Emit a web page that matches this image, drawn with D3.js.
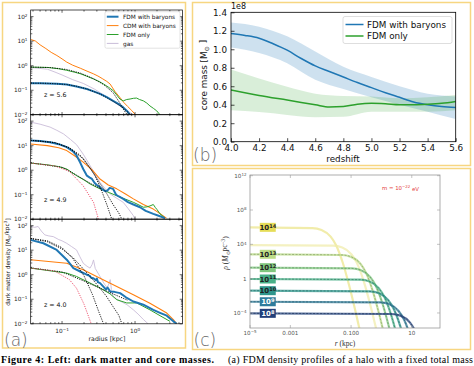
<!DOCTYPE html>
<html>
<head>
<meta charset="utf-8">
<script src="https://cdn.jsdelivr.net/npm/d3@7"></script>
<style>
body { margin: 0; background: #fff; }
svg { font-family: "DejaVu Sans", sans-serif; }
</style>
</head>
<body>
<script>
// ---- panel (a): density profiles, [radius kpc, density Msun/kpc^3] ----
var zLabels = ["z = 5.6", "z = 4.9", "z = 4.0"];
var legendA = ["FDM with baryons", "CDM with baryons", "FDM only", "gas"];

var a56Blue = [[0.037,0.192],[0.05,0.193],[0.063,0.19],[0.085,0.182],[0.116,0.17],[0.158,0.141],[0.219,0.112],[0.27,0.09],[0.332,0.071],[0.41,0.052],[0.5,0.037],[0.6,0.027],[0.69,0.02],[0.78,0.014],[0.855,0.01]];
var a56Orange = [[0.037,11.7],[0.043,10.2],[0.05,7.1],[0.06,5.0],[0.071,3.5],[0.085,2.6],[0.1,1.9],[0.116,1.4],[0.14,1.05],[0.178,0.79],[0.22,0.6],[0.268,0.47],[0.31,0.38],[0.355,0.3],[0.41,0.23],[0.455,0.18],[0.53,0.09],[0.62,0.051],[0.7,0.032],[0.79,0.022],[0.9,0.015],[1.0,0.0105]];
var a56Green = [[0.037,0.875],[0.063,0.85],[0.09,0.75],[0.116,0.65],[0.15,0.54],[0.178,0.47],[0.22,0.37],[0.268,0.29],[0.32,0.23],[0.372,0.178],[0.43,0.135],[0.505,0.095],[0.56,0.065],[0.62,0.044],[0.69,0.037],[0.77,0.042],[0.855,0.044],[0.95,0.047],[1.05,0.048],[1.15,0.042],[1.3,0.037],[1.45,0.03],[1.6,0.023],[1.8,0.018],[1.98,0.0145],[2.2,0.01]];
var a56Gas = [[0.037,0.85],[0.063,0.72],[0.08,0.55],[0.1,0.42],[0.14,0.27],[0.195,0.19],[0.28,0.11],[0.4,0.056],[0.56,0.028],[0.76,0.016],[0.93,0.01]];
var a56FitG = [[0.037,0.88],[0.07,0.84],[0.116,0.7],[0.178,0.5],[0.268,0.3],[0.372,0.17],[0.5,0.08],[0.6,0.035],[0.7,0.016],[0.78,0.01]];
var a56FitB = [[0.037,0.195],[0.063,0.192],[0.116,0.172],[0.158,0.145],[0.219,0.113],[0.332,0.07],[0.5,0.036],[0.69,0.019],[0.855,0.0105],[0.9,0.0095]];

var a49Blue = [[0.037,16.2],[0.05,15.5],[0.0686,13.8],[0.09,11.5],[0.116,8.7],[0.14,6.0],[0.158,4.0],[0.178,2.0],[0.195,1.12],[0.21,0.75],[0.219,0.6],[0.24,0.5],[0.257,0.44],[0.28,0.3],[0.3,0.25],[0.331,0.204],[0.36,0.16],[0.39,0.14],[0.417,0.148],[0.45,0.19],[0.5,0.174],[0.55,0.1],[0.6,0.085],[0.69,0.068],[0.8,0.05],[0.95,0.04],[1.17,0.031],[1.4,0.022],[1.78,0.0166],[2.1,0.014],[2.57,0.0112]];
var a49Orange = [[0.037,11.7],[0.063,10],[0.09,8.2],[0.116,6.3],[0.15,3.8],[0.195,2.14],[0.26,1.0],[0.331,0.436],[0.43,0.25],[0.562,0.174],[0.75,0.105],[0.95,0.068],[1.3,0.04],[1.78,0.026],[2.2,0.017],[2.69,0.0112]];
var a49Green = [[0.037,1.95],[0.063,1.66],[0.09,1.4],[0.116,1.12],[0.158,0.6],[0.2,0.4],[0.242,0.275],[0.331,0.174],[0.45,0.12],[0.562,0.091],[0.75,0.065],[0.95,0.049],[1.1,0.04],[1.3,0.031],[1.45,0.032],[1.6,0.035],[1.78,0.04],[1.9,0.03],[2.0,0.025],[2.2,0.0166],[2.57,0.0112]];
var a49Gas = [[0.037,91],[0.05,75],[0.0686,57],[0.085,42],[0.105,30],[0.13,18],[0.158,11],[0.195,4.5],[0.242,1.55],[0.29,0.6],[0.331,0.32],[0.4,0.16],[0.457,0.107],[0.55,0.075],[0.69,0.049],[0.8,0.028],[0.95,0.014],[1.0,0.01]];
var a49FitG = [[0.037,2.0],[0.1,1.32],[0.158,0.63],[0.25,0.28],[0.35,0.17]];
var a49FitA = [[0.037,16.6],[0.079,13.2],[0.126,7.9],[0.2,2.8],[0.282,0.63],[0.355,0.126],[0.417,0.035],[0.48,0.01]];
var a49FitB = [[0.037,16.6],[0.079,13.5],[0.126,8.3],[0.178,4.0],[0.24,1.26],[0.316,0.35],[0.4,0.126],[0.5,0.04],[0.6,0.018],[0.66,0.01]];
var a49Red = [[0.037,1.95],[0.079,1.5],[0.126,0.9],[0.195,0.23],[0.27,0.049],[0.316,0.01]];

var a40Blue = [[0.037,26.3],[0.0555,19.1],[0.0845,10.2],[0.116,4.07],[0.143,1.86],[0.177,1.35],[0.218,1.0],[0.24,0.9],[0.25,0.75],[0.269,0.72],[0.29,0.6],[0.3,0.7],[0.31,0.5],[0.332,0.457],[0.36,0.35],[0.4,0.25],[0.42,0.3],[0.455,0.209],[0.52,0.2],[0.624,0.178],[0.75,0.12],[0.948,0.081],[1.1,0.07],[1.3,0.06],[1.78,0.037],[2.2,0.028],[2.72,0.0214],[3.35,0.0126],[3.72,0.01]];
var a40Orange = [[0.037,4.07],[0.116,2.95],[0.195,1.58],[0.332,0.72],[0.562,0.33],[0.948,0.151],[1.6,0.069],[2.72,0.0275],[3.35,0.0148],[3.72,0.01]];
var a40Green = [[0.037,1.86],[0.116,1.16],[0.158,0.85],[0.242,0.457],[0.332,0.288],[0.455,0.166],[0.562,0.0955],[0.769,0.0708],[1.055,0.0708],[1.6,0.037],[2.2,0.0214],[3.01,0.0126]];
var a40Gas = [[0.037,95],[0.042,85],[0.047,92],[0.052,60],[0.058,42],[0.066,38],[0.076,35.5],[0.09,27],[0.1,24],[0.116,19],[0.135,14],[0.158,10.2],[0.175,5.5],[0.195,2.95],[0.22,2.2],[0.242,1.86],[0.258,2.6],[0.27,4.0],[0.285,1.8],[0.331,0.85],[0.38,0.42],[0.417,0.29],[0.44,0.45],[0.457,0.63],[0.475,0.25],[0.5,0.13],[0.6,0.09],[0.776,0.06],[0.95,0.037],[1.1,0.025],[1.3,0.015],[1.51,0.01]];
var a40FitG = [[0.037,1.9],[0.1,1.3],[0.2,0.55],[0.4,0.22],[0.8,0.09]];
var a40FitA = [[0.037,30],[0.063,24],[0.1,12.6],[0.141,4.5],[0.2,0.9],[0.26,0.16],[0.32,0.03],[0.37,0.01]];
var a40FitB = [[0.037,30],[0.063,22],[0.1,11.2],[0.141,5.0],[0.2,1.6],[0.282,0.5],[0.4,0.14],[0.5,0.05],[0.6,0.022],[0.66,0.01]];
var a40Red = [[0.037,1.86],[0.079,1.41],[0.126,0.63],[0.158,0.28],[0.2,0.063],[0.251,0.01]];

// ---- panel (b): core mass vs redshift (units of 1e8 Msun) ----
var bLineZ = [4.0,4.1,4.2,4.3,4.4,4.5,4.6,4.7,4.8,4.9,5.0,5.1,5.2,5.3,5.4,5.5,5.6];
var bFdmBaryons = [1.17,1.15,1.12,1.06,0.99,0.90,0.82,0.76,0.70,0.64,0.585,0.53,0.48,0.43,0.40,0.38,0.37];
var bOnlyZ = [4.0,4.2,4.4,4.6,4.7,4.8,4.9,5.0,5.1,5.2,5.3,5.4,5.5,5.6];
var bFdmOnly = [0.56,0.50,0.45,0.40,0.375,0.38,0.405,0.415,0.41,0.40,0.40,0.405,0.415,0.435];
var bBandZ = [4.0,4.2,4.4,4.6,4.8,5.0,5.2,5.4,5.6];
var bBaryonsHi = [1.29,1.245,1.14,0.975,0.81,0.70,0.60,0.52,0.49];
var bBaryonsLo = [1.02,0.96,0.85,0.67,0.57,0.48,0.40,0.325,0.245];
var bOnlyHi = [0.78,0.685,0.595,0.52,0.495,0.49,0.47,0.48,0.505];
var bOnlyLo = [0.34,0.32,0.29,0.265,0.27,0.325,0.325,0.325,0.34];
var bLegend = ["FDM with baryons", "FDM only"];

// ---- panel (c): soliton profiles, [r kpc, rho Msun/pc^3] ----
var cHaloExp = ["14", null, "13", "12", "11", "10", "9", "8"];
var c14 = [[4.7e-5,9.55e5],[5.33e-3,7.9e5],[1.06e-2,4.8e5],[2.12e-2,7.9e4],[3.21e-2,7.9e3],[5.33e-2,72],[8.45e-2,0.22],[0.134,3.0e-4],[0.212,2.4e-7]];
var cExtra = [[4.7e-5,8.3e3],[2.56e-2,6.9e3],[5.12e-2,4.2e3],[0.102,692],[0.155,69],[0.256,0.63],[0.406,1.95e-3],[0.644,2.6e-6],[1.02,2.1e-9]];
var c13 = [[4.7e-5,692],[5.02e-2,575],[0.1,347],[0.2,57.5],[0.303,5.75],[0.502,5.2e-2],[0.796,1.6e-4],[1.26,2.2e-7]];
var c12 = [[4.7e-5,19.1],[0.107,15.8],[0.213,9.5],[0.425,1.58],[0.643,0.158],[1.07,1.45e-3],[1.69,4.5e-6],[2.68,6e-9]];
var c11 = [[4.7e-5,0.912],[0.206,0.76],[0.41,0.457],[0.818,7.6e-2],[1.24,7.6e-3],[2.06,6.9e-5],[3.26,2.1e-7]];
var c10 = [[4.7e-5,3.98e-2],[0.417,3.3e-2],[0.832,2.0e-2],[1.66,3.3e-3],[2.51,3.3e-4],[4.17,3.0e-6],[6.61,9.3e-9]];
var c9 = [[4.7e-5,2.04e-3],[0.923,1.7e-3],[1.84,1.02e-3],[3.67,1.7e-4],[5.56,1.7e-5],[9.23,1.55e-7]];
var c8 = [[4.7e-5,9.1e-5],[2.2,7.6e-5],[4.4,4.6e-5],[8.77,7.6e-6],[13.3,7.6e-7]];
var cYTicks = [1e12, 1e8, 1e4, 1, 1e-4];
var cYLabels = [["10","12"],["10","8"],["10","4"],["1",""],["10","\u22124"]];
var cXTicks = [4.7e-5, 0.001, 0.1, 10];
var cXLabels = [["10","\u22125"],["0.001",""],["0.100",""],["10",""]];

var W = 474, H = 366;
var svg = d3.select("body").append("svg").attr("width", W).attr("height", H);
var defs = svg.append("defs");

var blue = "#1f77b4", orange = "#ff7f0e", green = "#2ca02c", gasCol = "#c9bcd8", red = "#ec4563";
var boxCol = "#f7d681";

function addSup(t, base, sup) {
  t.append("tspan").text(base);
  if (sup) t.append("tspan").attr("dy", "-0.45em").attr("font-size", "72%").text(sup);
}

// panel boxes
svg.append("rect").attr("x", 2.5).attr("y", 2.5).attr("width", 183).attr("height", 345.5)
  .attr("fill", "none").attr("stroke", boxCol).attr("stroke-width", 1.5);
svg.append("rect").attr("x", 192.5).attr("y", 2.5).attr("width", 278).attr("height", 163)
  .attr("fill", "none").attr("stroke", boxCol).attr("stroke-width", 1.5);
svg.append("rect").attr("x", 192.5).attr("y", 168.5).attr("width", 278).attr("height", 181)
  .attr("fill", "none").attr("stroke", boxCol).attr("stroke-width", 1.5);

// ================= panel (a) =================
var xA = d3.scaleLog().domain([0.0372, 4.47]).range([30.7, 182.5]);
var subTops = [10, 114.5, 219];
var subH = 104.8;

var subs = [
  [ {d: a56Gas, c: gasCol, w: 0.9}, {d: a56Orange, c: orange, w: 1}, {d: a56Green, c: green, w: 1},
    {d: a56Blue, c: blue, w: 2}, {d: a56FitG, c: "#000", w: 0.9, dash: "1.2,1.2"}, {d: a56FitB, c: "#000", w: 0.9, dash: "1.2,1.2"} ],
  [ {d: a49Gas, c: gasCol, w: 0.9}, {d: a49Orange, c: orange, w: 1.1}, {d: a49Green, c: green, w: 1},
    {d: a49Blue, c: blue, w: 2}, {d: a49FitG, c: "#000", w: 0.9, dash: "1.2,1.2"}, {d: a49FitA, c: "#000", w: 0.9, dash: "1.2,1.2"},
    {d: a49FitB, c: "#000", w: 0.9, dash: "1.2,1.2"}, {d: a49Red, c: red, w: 0.9, dash: "1.2,1.2"} ],
  [ {d: a40Gas, c: gasCol, w: 0.9}, {d: a40Orange, c: orange, w: 1.1}, {d: a40Green, c: green, w: 1},
    {d: a40Blue, c: blue, w: 2}, {d: a40FitG, c: "#000", w: 0.9, dash: "1.2,1.2"}, {d: a40FitA, c: "#000", w: 0.9, dash: "1.2,1.2"},
    {d: a40FitB, c: "#000", w: 0.9, dash: "1.2,1.2"}, {d: a40Red, c: red, w: 0.9, dash: "1.2,1.2"} ]
];

var yTicksA = [100, 10, 1, 0.1, 0.01];
var yTickLabA = [["10","2"],["10","1"],["10","0"],["10","\u22121"],["10","\u22122"]];
var xMinorA = [], yMinorA = [];
[0.01, 0.1, 1].forEach(function(d) { for (var k = 2; k < 10; k++) if (k*d > 0.0372 && k*d < 4.47) xMinorA.push(k*d); });
[0.01, 0.1, 1, 10, 100].forEach(function(d) { for (var k = 2; k < 10; k++) if (k*d < 186) yMinorA.push(k*d); });

subs.forEach(function(series, i) {
  var top = subTops[i], bot = top + subH;
  var y = d3.scaleLog().domain([0.01, 186]).range([bot, top]);
  defs.append("clipPath").attr("id", "clipA" + i).append("rect")
    .attr("x", 30.7).attr("y", top).attr("width", 151.8).attr("height", subH);
  var g = svg.append("g").attr("clip-path", "url(#clipA" + i + ")");
  var line = d3.line().x(function(d) { return xA(d[0]); }).y(function(d) { return y(d[1]); });
  series.forEach(function(s) {
    g.append("path").attr("d", line(s.d)).attr("fill", "none").attr("stroke", s.c)
      .attr("stroke-width", s.w).attr("stroke-linejoin", "round")
      .attr("stroke-dasharray", s.dash || null);
  });
  // frame
  svg.append("rect").attr("x", 30.7).attr("y", top).attr("width", 151.8).attr("height", subH)
    .attr("fill", "none").attr("stroke", "#000").attr("stroke-width", 0.7);
  // ticks, pointing in, on every side
  var tk = svg.append("g").attr("stroke", "#000").attr("stroke-width", 0.6);
  [0.1, 1].forEach(function(v) {
    tk.append("line").attr("x1", xA(v)).attr("x2", xA(v)).attr("y1", bot).attr("y2", bot - 2.8);
    tk.append("line").attr("x1", xA(v)).attr("x2", xA(v)).attr("y1", top).attr("y2", top + 2.8);
  });
  xMinorA.forEach(function(v) {
    tk.append("line").attr("x1", xA(v)).attr("x2", xA(v)).attr("y1", bot).attr("y2", bot - 1.6);
    tk.append("line").attr("x1", xA(v)).attr("x2", xA(v)).attr("y1", top).attr("y2", top + 1.6);
  });
  yTicksA.forEach(function(v, j) {
    tk.append("line").attr("x1", 30.7).attr("x2", 33.5).attr("y1", y(v)).attr("y2", y(v));
    tk.append("line").attr("x1", 182.5).attr("x2", 179.7).attr("y1", y(v)).attr("y2", y(v));
    var t = svg.append("text").attr("x", 27.5).attr("y", y(v) + 2).attr("text-anchor", "end")
      .attr("font-size", 5.8).attr("fill", "#222");
    addSup(t, yTickLabA[j][0], yTickLabA[j][1]);
  });
  yMinorA.forEach(function(v) {
    tk.append("line").attr("x1", 30.7).attr("x2", 32.3).attr("y1", y(v)).attr("y2", y(v));
    tk.append("line").attr("x1", 182.5).attr("x2", 180.9).attr("y1", y(v)).attr("y2", y(v));
  });
  svg.append("text").attr("x", 44).attr("y", top + (i === 0 ? 87 : i === 1 ? 87.5 : 88))
    .attr("font-size", 6.3).attr("fill", "#111").text(zLabels[i]);
});

// x tick labels on the bottom subplot
[[0.1, ["10","\u22121"]], [1, ["10","0"]]].forEach(function(p) {
  var t = svg.append("text").attr("x", xA(p[0])).attr("y", 332.5).attr("text-anchor", "middle")
    .attr("font-size", 5.8).attr("fill", "#222");
  addSup(t, p[1][0], p[1][1]);
});
svg.append("text").attr("x", 107).attr("y", 340.5).attr("text-anchor", "middle")
  .attr("font-size", 6.2).attr("fill", "#111").text("radius [kpc]");
var ylab = svg.append("text").attr("transform", "translate(9.5,262) rotate(-90)")
  .attr("text-anchor", "middle").attr("font-size", 5.8).attr("fill", "#111");
ylab.append("tspan").text("dark matter density [M");
ylab.append("tspan").attr("dy", "0.3em").attr("font-size", "72%").text("\u2299");
ylab.append("tspan").attr("dy", "-0.3em").text("/kpc");
ylab.append("tspan").attr("dy", "-0.45em").attr("font-size", "72%").text("3");
ylab.append("tspan").attr("dy", "0.45em").text("]");

// legend (a)
var legA = svg.append("g");
legA.append("rect").attr("x", 105).attr("y", 11.7).attr("width", 75).attr("height", 36.5).attr("rx", 1.5)
  .attr("fill", "#fff").attr("fill-opacity", 0.85).attr("stroke", "#d0d0d0").attr("stroke-width", 0.6);
[blue, orange, green, gasCol].forEach(function(c, j) {
  var yy = 16.7 + j * 8.9;
  legA.append("line").attr("x1", 106.8).attr("x2", 118.5).attr("y1", yy).attr("y2", yy)
    .attr("stroke", c).attr("stroke-width", j === 0 ? 2 : 1);
  legA.append("text").attr("x", 123).attr("y", yy + 2.1).attr("font-size", 5.8).attr("fill", "#111").text(legendA[j]);
});

svg.append("text").attr("x", 4).attr("y", 345.5).attr("font-size", 17).attr("font-weight", 300)
  .attr("fill", "#666").text("(a)");

// ================= panel (b) =================
var xB = d3.scaleLinear().domain([4.0, 5.6]).range([231, 455.7]);
var yB = d3.scaleLinear().domain([0, 1.4]).range([141.7, 12.3]);
defs.append("clipPath").attr("id", "clipB").append("rect")
  .attr("x", 231).attr("y", 12.3).attr("width", 224.7).attr("height", 129.4);
var gb = svg.append("g").attr("clip-path", "url(#clipB)");
var areaB = d3.area().x(function(d) { return xB(d[0]); }).y0(function(d) { return yB(d[1]); })
  .y1(function(d) { return yB(d[2]); }).curve(d3.curveMonotoneX);
var lineB = d3.line().x(function(d) { return xB(d[0]); }).y(function(d) { return yB(d[1]); }).curve(d3.curveMonotoneX);
gb.append("path").attr("d", areaB(bBandZ.map(function(z, j) { return [z, bBaryonsLo[j], bBaryonsHi[j]]; })))
  .attr("fill", blue).attr("fill-opacity", 0.22);
gb.append("path").attr("d", areaB(bBandZ.map(function(z, j) { return [z, bOnlyLo[j], bOnlyHi[j]]; })))
  .attr("fill", green).attr("fill-opacity", 0.18);
gb.append("path").attr("d", lineB(bLineZ.map(function(z, j) { return [z, bFdmBaryons[j]]; })))
  .attr("fill", "none").attr("stroke", blue).attr("stroke-width", 1.5);
gb.append("path").attr("d", lineB(bOnlyZ.map(function(z, j) { return [z, bFdmOnly[j]]; })))
  .attr("fill", "none").attr("stroke", green).attr("stroke-width", 1.5);

var axB = svg.append("g").attr("transform", "translate(0,141.7)")
  .call(d3.axisBottom(xB).tickValues(d3.range(0, 9).map(function(k) { return 4 + k * 0.2; }))
    .tickFormat(d3.format(".1f")).tickSize(-3.5).tickPadding(3));
var ayB = svg.append("g").attr("transform", "translate(231,0)")
  .call(d3.axisLeft(yB).tickValues(d3.range(0, 8).map(function(k) { return k * 0.2; }))
    .tickFormat(d3.format(".1f")).tickSize(-3.5).tickPadding(4));
[axB, ayB].forEach(function(a) {
  a.attr("font-family", null);
  a.select(".domain").remove();
  a.selectAll("text").attr("font-size", 8.8).attr("fill", "#111");
  a.selectAll("line").attr("stroke", "#000").attr("stroke-width", 0.7);
});
svg.append("rect").attr("x", 231).attr("y", 12.3).attr("width", 224.7).attr("height", 129.4)
  .attr("fill", "none").attr("stroke", "#000").attr("stroke-width", 0.8);
svg.append("text").attr("x", 231).attr("y", 9.2).attr("font-size", 8).attr("fill", "#111").text("1e8");
svg.append("text").attr("x", 343).attr("y", 162).attr("text-anchor", "middle").attr("font-size", 8.8)
  .attr("fill", "#111").text("redshift");
var ylb = svg.append("text").attr("transform", "translate(207,75) rotate(-90)").attr("text-anchor", "middle")
  .attr("font-size", 8.8).attr("fill", "#111");
ylb.append("tspan").text("core mass [M");
ylb.append("tspan").attr("dy", "0.3em").attr("font-size", "72%").text("\u2299");
ylb.append("tspan").attr("dy", "-0.3em").text(" ]");

var legB = svg.append("g");
legB.append("rect").attr("x", 343).attr("y", 16.5).attr("width", 109).attr("height", 27).attr("rx", 2)
  .attr("fill", "#fff").attr("fill-opacity", 0.85).attr("stroke", "#d0d0d0").attr("stroke-width", 0.7);
[blue, green].forEach(function(c, j) {
  var yy = 24.5 + j * 11.5;
  legB.append("line").attr("x1", 345.5).attr("x2", 363.5).attr("y1", yy).attr("y2", yy)
    .attr("stroke", c).attr("stroke-width", 1.5);
  legB.append("text").attr("x", 367).attr("y", yy + 3.2).attr("font-size", 8.8).attr("fill", "#111").text(bLegend[j]);
});
svg.append("text").attr("x", 193).attr("y", 161).attr("font-size", 17).attr("font-weight", 300)
  .attr("fill", "#666").text("(b)");

// ================= panel (c) =================
var xC = d3.scaleLog().domain([Math.pow(10, -4.33), Math.pow(10, 1.93)]).range([250, 440]);
var yC = d3.scaleLog().domain([Math.pow(10, -5.75), Math.pow(10, 12.08)]).range([328, 175]);
defs.append("clipPath").attr("id", "clipC").append("rect")
  .attr("x", 250).attr("y", 175).attr("width", 190).attr("height", 153);
var gc = svg.append("g").attr("clip-path", "url(#clipC)");
var lineC = d3.line().x(function(d) { return xC(d[0]); }).y(function(d) { return yC(d[1]); }).curve(d3.curveMonotoneX);
var cCurves = [c14, cExtra, c13, c12, c11, c10, c9, c8];
var cLine = ["#ece68e", "#f0ecac", "#b9db8a", "#80c780", "#45ad86", "#2e958b", "#2f7a96", "#28477f"];
var cBox = ["#e6dd58", null, "#bcdc86", "#80c67e", "#48b088", "#2f968d", "#2f7c9c", "#233f7a"];
cCurves.forEach(function(d, j) {
  gc.append("path").attr("d", lineC(d)).attr("fill", "none").attr("stroke", cLine[j])
    .attr("stroke-width", 2.2).attr("stroke-opacity", 0.75);
  if (j > 1) {
    gc.append("path").attr("d", lineC(d)).attr("fill", "none").attr("stroke", d3.color(cLine[j]).darker(0.9))
      .attr("stroke-width", 0.7).attr("stroke-dasharray", "2,1.5");
  }
});
cCurves.forEach(function(d, j) {
  if (!cHaloExp[j]) return;
  var cx = xC(1.8e-4), cy = yC(d[0][1]);
  svg.append("rect").attr("x", cx - 8).attr("y", cy - 4.5).attr("width", 16).attr("height", 9).attr("fill", cBox[j]);
  var t = svg.append("text").attr("x", cx).attr("y", cy + 2.5).attr("text-anchor", "middle")
    .attr("font-size", 7).attr("font-weight", "bold").attr("fill", j >= 6 ? "#fff" : "#222");
  addSup(t, "10", cHaloExp[j]);
});
svg.append("rect").attr("x", 250).attr("y", 175).attr("width", 190).attr("height", 153)
  .attr("fill", "none").attr("stroke", "#9a9a9a").attr("stroke-width", 0.8);
var tc = svg.append("g").attr("stroke", "#9a9a9a").attr("stroke-width", 0.6);
cYTicks.forEach(function(v, j) {
  tc.append("line").attr("x1", 250).attr("x2", 253).attr("y1", yC(v)).attr("y2", yC(v));
  tc.append("line").attr("x1", 440).attr("x2", 437).attr("y1", yC(v)).attr("y2", yC(v));
  var t = svg.append("text").attr("x", 246.5).attr("y", yC(v) + 2).attr("text-anchor", "end")
    .attr("font-size", 5.6).attr("fill", "#555");
  addSup(t, cYLabels[j][0], cYLabels[j][1]);
});
cXTicks.forEach(function(v, j) {
  tc.append("line").attr("x1", xC(v)).attr("x2", xC(v)).attr("y1", 328).attr("y2", 325);
  tc.append("line").attr("x1", xC(v)).attr("x2", xC(v)).attr("y1", 175).attr("y2", 178);
  var t = svg.append("text").attr("x", xC(v)).attr("y", 335).attr("text-anchor", "middle")
    .attr("font-size", 5.6).attr("fill", "#555");
  addSup(t, cXLabels[j][0], cXLabels[j][1]);
});
var xlc = svg.append("text").attr("x", 345).attr("y", 345.5).attr("text-anchor", "middle")
  .style("font-family", "'Liberation Serif', serif").attr("font-size", 7.5).attr("fill", "#333");
xlc.append("tspan").attr("font-style", "italic").text("r");
xlc.append("tspan").text(" (kpc)");
var ylc = svg.append("text").attr("transform", "translate(228,253) rotate(-90)").attr("text-anchor", "middle")
  .style("font-family", "'Liberation Serif', serif").attr("font-size", 7.5).attr("fill", "#333");
ylc.append("tspan").attr("font-style", "italic").text("\u03c1");
ylc.append("tspan").text(" (");
ylc.append("tspan").attr("font-style", "italic").text("M");
ylc.append("tspan").attr("dy", "0.3em").attr("font-size", "70%").text("\u2299");
ylc.append("tspan").attr("dy", "-0.3em").text("pc");
ylc.append("tspan").attr("dy", "-0.45em").attr("font-size", "70%").text("\u22123");
ylc.append("tspan").attr("dy", "0.45em").text(")");
var mt = svg.append("text").attr("x", 382).attr("y", 190).attr("font-size", 5.4).attr("fill", "#e33a3a");
mt.append("tspan").text("m = 10");
mt.append("tspan").attr("dy", "-0.45em").attr("font-size", "72%").text("\u221222");
mt.append("tspan").attr("dy", "0.45em").text(" eV");
svg.append("text").attr("x", 193.5).attr("y", 346).attr("font-size", 17).attr("font-weight", 300)
  .attr("fill", "#666").text("(c)");

// caption along the bottom edge
svg.append("text").attr("x", 1).attr("y", 363).style("font-family", "'Liberation Serif', serif")
  .attr("font-size", 10).attr("font-weight", "bold").attr("textLength", 213)
  .text("Figure 4: Left: dark matter and core masses.");
svg.append("text").attr("x", 228).attr("y", 363).style("font-family", "'Liberation Serif', serif")
  .attr("font-size", 10).attr("textLength", 245)
  .text("(a) FDM density profiles of a halo with a fixed total mass");
</script>
</body>
</html>
